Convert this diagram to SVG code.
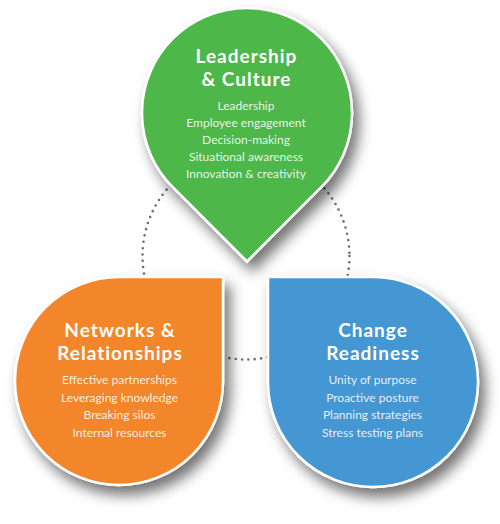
<svg xmlns="http://www.w3.org/2000/svg" width="500" height="524" viewBox="0 0 500 524">
  <defs>
    <filter id="shadow" x="-20%" y="-20%" width="150%" height="150%">
      <feDropShadow dx="6" dy="9" stdDeviation="7" flood-color="#000" flood-opacity="0.55"/>
    </filter>
    <style>
      .shape { stroke: #ffffff; stroke-width: 2.5; filter: url(#shadow); }
      .title { font-family: Lato, "Open Sans", "Liberation Sans", sans-serif; font-weight: 700; font-size: 19px; letter-spacing: 1px; fill: #ffffff; text-anchor: middle; }
      .body { font-family: Lato, "Open Sans", "Liberation Sans", sans-serif; font-size: 12px; fill: #ffffff; fill-opacity: 0.88; text-anchor: middle; }
      .dots { fill: none; stroke: #6e6e6e; stroke-width: 2.6; stroke-linecap: round; stroke-dasharray: 0 6.4; }
    </style>
  </defs>
  <rect width="500" height="524" fill="#ffffff"/>
  <g id="connectors">
    <circle class="dots" cx="246" cy="256" r="103.5"/>
  </g>
  <g id="networks">
    <path class="shape" fill="#f3862a" d="M 119 277 L 223 277 L 223 381 A 104 104 0 1 1 119 277 Z"/>
    <text class="title" x="120" y="337">Networks &amp;</text>
    <text class="title" x="120" y="360">Relationships</text>
    <text class="body" x="119.5" y="384">Effective partnerships</text>
    <text class="body" x="119.5" y="401.5">Leveraging knowledge</text>
    <text class="body" x="119.5" y="419">Breaking silos</text>
    <text class="body" x="119.5" y="436.5">Internal resources</text>
  </g>
  <g id="change">
    <path class="shape" fill="#4597d3" d="M 268 382 L 268 277 L 373 277 A 105 105 0 1 1 268 382 Z"/>
    <text class="title" x="373" y="337">Change</text>
    <text class="title" x="373" y="360">Readiness</text>
    <text class="body" x="372.5" y="384">Unity of purpose</text>
    <text class="body" x="372.5" y="401.5">Proactive posture</text>
    <text class="body" x="372.5" y="419">Planning strategies</text>
    <text class="body" x="372.5" y="436.5">Stress testing plans</text>
  </g>
  <g id="leadership">
    <path class="shape" fill="#4db748" d="M 247 261.5 L 172.8 187.2 A 105 105 0 1 1 321.2 187.2 Z"/>
    <text class="title" x="246.5" y="63">Leadership</text>
    <text class="title" x="246.5" y="86">&amp; Culture</text>
    <text class="body" x="246" y="110">Leadership</text>
    <text class="body" x="246" y="127">Employee engagement</text>
    <text class="body" x="246" y="144">Decision-making</text>
    <text class="body" x="246" y="161">Situational awareness</text>
    <text class="body" x="246" y="178">Innovation &amp; creativity</text>
  </g>
</svg>
